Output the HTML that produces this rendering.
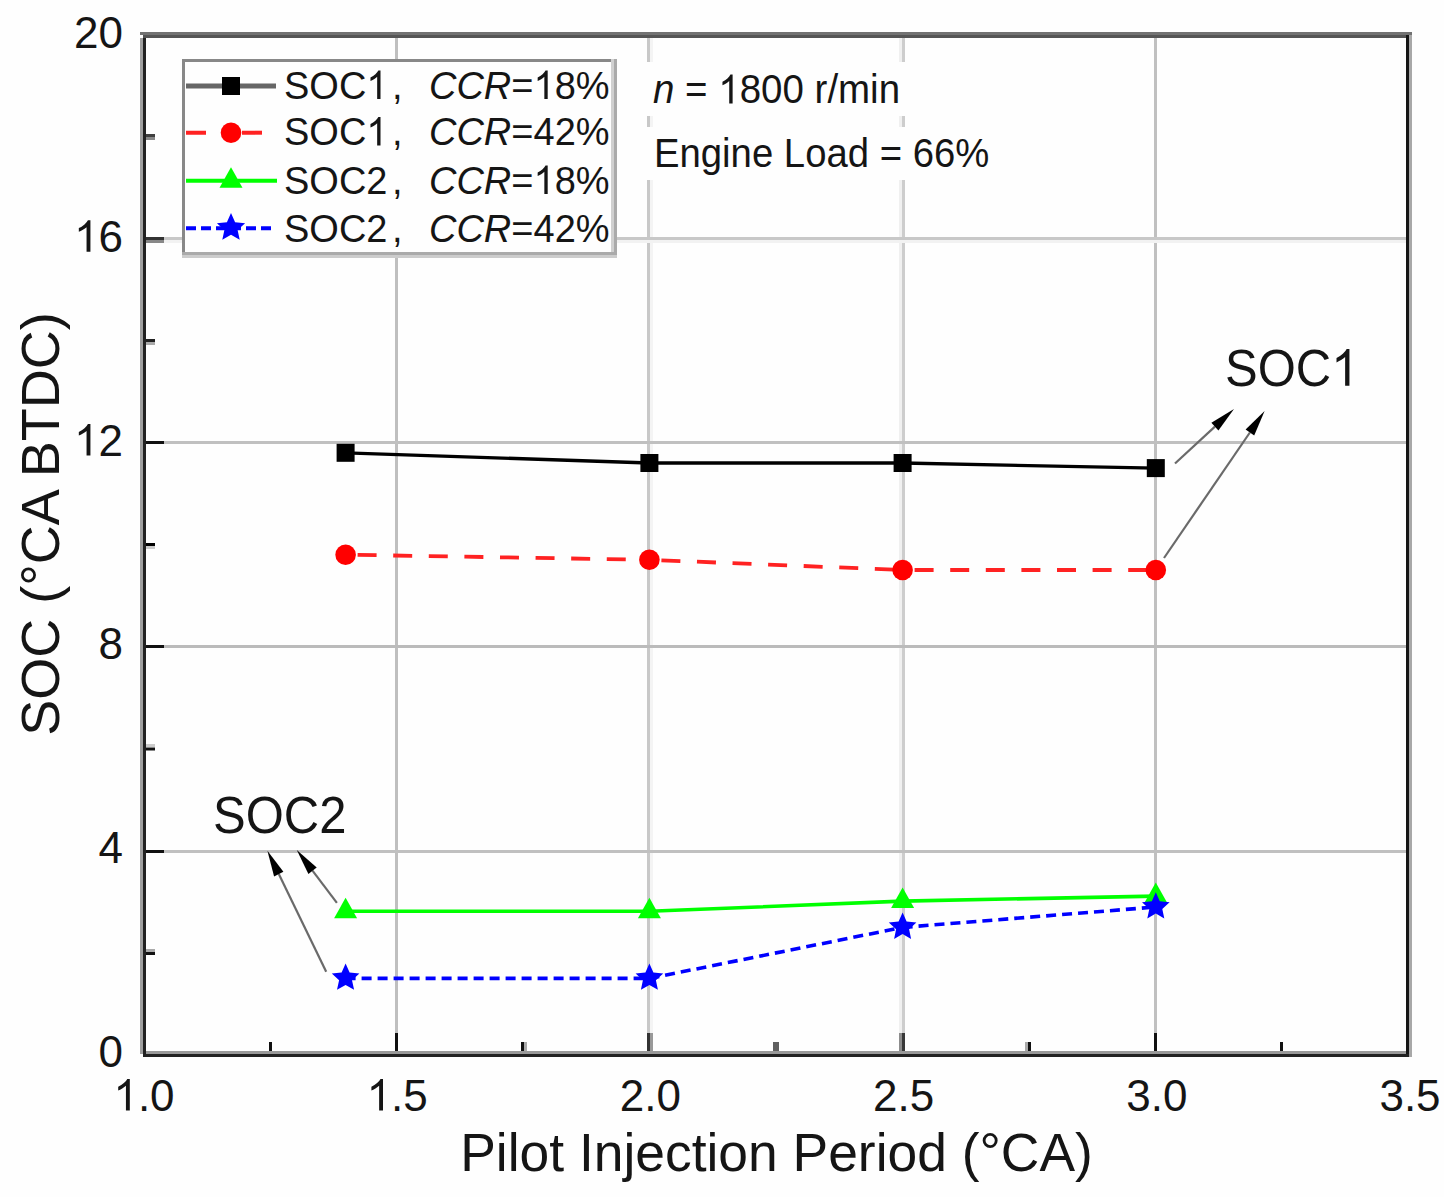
<!DOCTYPE html><html><head><meta charset="utf-8"><style>html,body{margin:0;padding:0;background:#fefefe;overflow:hidden}svg{display:block}text{font-family:"Liberation Sans",sans-serif;fill:#151515;stroke:none}.o{stroke:none}.h{fill-opacity:0;stroke:none}</style></head><body>
<svg width="1444" height="1197" viewBox="0 0 1444 1197">
<rect x="0" y="0" width="1444" height="1197" fill="#fefefe"/>
<g>
<rect x="395" y="38" width="3" height="1013" fill="#bfbfbf"/>
<rect x="647" y="38" width="3" height="1013" fill="#c8c8c8"/>
<rect x="650" y="38" width="3" height="1013" fill="#f4f4f4"/>
<rect x="899" y="38" width="3" height="1013" fill="#f0f0f0"/>
<rect x="902" y="38" width="3" height="1013" fill="#cdcdcd"/>
<rect x="1154" y="38" width="3" height="1013" fill="#c0c0c0"/>
<rect x="146" y="237" width="1260" height="3" fill="#c8c8c8"/>
<rect x="146" y="240" width="1260" height="3" fill="#f2f2f2"/>
<rect x="146" y="441" width="1260" height="3" fill="#c0c0c0"/>
<rect x="146" y="645" width="1260" height="3" fill="#bbbbbb"/>
<rect x="146" y="850" width="1260" height="3" fill="#c0c0c0"/>
<rect x="140" y="38" width="3" height="1016" fill="#a0a0a0"/>
<rect x="143" y="35" width="3" height="1022" fill="#222"/>
<rect x="140" y="32" width="1272" height="3" fill="#727272"/>
<rect x="143" y="35" width="1266" height="3" fill="#555"/>
<rect x="1406" y="35" width="3" height="1022" fill="#151515"/>
<rect x="1409" y="35" width="3" height="1022" fill="#a8a8a8"/>
<rect x="146" y="1051" width="1260" height="3" fill="#999"/>
<rect x="143" y="1054" width="1266" height="3" fill="#222"/>
<rect x="269" y="1042" width="3" height="9" fill="#111"/>
<rect x="395" y="1033" width="3" height="18" fill="#111"/>
<rect x="521" y="1042" width="3" height="9" fill="#111"/>
<rect x="524" y="1042" width="3" height="9" fill="#aaa"/>
<rect x="647" y="1033" width="3" height="18" fill="#333"/>
<rect x="650" y="1033" width="3" height="18" fill="#999"/>
<rect x="773" y="1042" width="6" height="9" fill="#606060"/>
<rect x="899" y="1033" width="3" height="18" fill="#8c8c8c"/>
<rect x="902" y="1033" width="3" height="18" fill="#383838"/>
<rect x="1025" y="1042" width="3" height="9" fill="#aaa"/>
<rect x="1028" y="1042" width="3" height="9" fill="#111"/>
<rect x="1154" y="1033" width="3" height="18" fill="#111"/>
<rect x="1280" y="1042" width="3" height="9" fill="#111"/>
<rect x="146" y="134" width="9" height="3" fill="#404040"/>
<rect x="146" y="137" width="9" height="3" fill="#888"/>
<rect x="146" y="339" width="9" height="3" fill="#222"/>
<rect x="146" y="342" width="9" height="3" fill="#aaa"/>
<rect x="146" y="543" width="9" height="3" fill="#000"/>
<rect x="146" y="546" width="9" height="3" fill="#ccc"/>
<rect x="146" y="744" width="9" height="3" fill="#ccc"/>
<rect x="146" y="747.5" width="9" height="3" fill="#111"/>
<rect x="146" y="949" width="9" height="3" fill="#aaa"/>
<rect x="146" y="952" width="9" height="3" fill="#111"/>
<rect x="146" y="237" width="18" height="3" fill="#333"/>
<rect x="146" y="240" width="18" height="3" fill="#888"/>
<rect x="146" y="441" width="18" height="3" fill="#111"/>
<rect x="146" y="645" width="18" height="3" fill="#111"/>
<rect x="146" y="850" width="18" height="3" fill="#111"/>
<text x="144.0" y="1110.5" font-size="44" text-anchor="middle"><tspan class="h">1</tspan>.0</text>
<text x="397.2" y="1110.5" font-size="44" text-anchor="middle"><tspan class="h">1</tspan>.5</text>
<text x="650.4" y="1110.5" font-size="44" text-anchor="middle">2.0</text>
<text x="903.6" y="1110.5" font-size="44" text-anchor="middle">2.5</text>
<text x="1156.8" y="1110.5" font-size="44" text-anchor="middle">3.0</text>
<text x="1410.0" y="1110.5" font-size="44" text-anchor="middle">3.5</text>
<text x="123" y="1067.0" font-size="44" text-anchor="end">0</text>
<text x="123" y="863.2" font-size="44" text-anchor="end">4</text>
<text x="123" y="659.4" font-size="44" text-anchor="end">8</text>
<text x="123" y="455.6" font-size="44" text-anchor="end"><tspan class="h">1</tspan>2</text>
<text x="123" y="251.8" font-size="44" text-anchor="end"><tspan class="h">1</tspan>6</text>
<text x="123" y="48.0" font-size="44" text-anchor="end">20</text>
<g transform="matrix(1,0,0,1.02,0,-23.420)"><text x="776.5" y="1171" font-size="53.4" text-anchor="middle">Pilot Injection Period (°CA)</text></g>
<text transform="translate(59,524) rotate(-90)" font-size="54" text-anchor="middle">SOC (°CA BTDC)</text>
<rect x="640" y="62" width="272" height="54" fill="#fefefe"/>
<rect x="640" y="127" width="360" height="53" fill="#fefefe"/>
<g transform="matrix(1,0,0,1.045,0,-4.657)"><text x="653" y="103.5" font-size="38.5"><tspan font-style="italic">n</tspan> = <tspan class="h">1</tspan>800 r/min</text></g>
<g transform="matrix(1,0,0,1.045,0,-7.515)"><text x="654" y="167" font-size="38.3">Engine Load = 66%</text></g>
<polyline points="345.6,452.8 649.4,463.0 902.6,463.0 1155.8,468.1" fill="none" stroke="#000" stroke-width="3.3"/>
<line x1="345.6" y1="554.7" x2="649.4" y2="559.8" stroke="#f22" stroke-width="3.8" stroke-dasharray="19 16.6" stroke-dashoffset="23.6"/>
<line x1="649.4" y1="559.8" x2="902.6" y2="570.0" stroke="#f22" stroke-width="3.8" stroke-dasharray="19 16.6" stroke-dashoffset="23.6"/>
<line x1="902.6" y1="570.0" x2="1155.8" y2="570.0" stroke="#f22" stroke-width="3.8" stroke-dasharray="19 16.6" stroke-dashoffset="23.6"/>
<polyline points="345.6,911.3 649.4,911.3 902.6,901.1 1155.8,896.1" fill="none" stroke="#0f0" stroke-width="3.6"/>
<line x1="345.6" y1="978.4" x2="649.4" y2="978.4" stroke="#00f" stroke-width="3.6" stroke-dasharray="10 6"/>
<line x1="649.4" y1="978.4" x2="902.6" y2="927.4" stroke="#00f" stroke-width="3.6" stroke-dasharray="10 6"/>
<line x1="902.6" y1="927.4" x2="1155.8" y2="907.0" stroke="#00f" stroke-width="3.6" stroke-dasharray="10 6"/>
<rect x="336.6" y="443.8" width="18" height="18" fill="#000"/>
<rect x="640.4" y="454.0" width="18" height="18" fill="#000"/>
<rect x="893.6" y="454.0" width="18" height="18" fill="#000"/>
<rect x="1146.8" y="459.1" width="18" height="18" fill="#000"/>
<circle cx="345.6" cy="554.7" r="10.3" fill="#f00"/>
<circle cx="649.4" cy="559.8" r="10.3" fill="#f00"/>
<circle cx="902.6" cy="570.0" r="10.3" fill="#f00"/>
<circle cx="1155.8" cy="570.0" r="10.3" fill="#f00"/>
<polygon points="345.6,897.8 357.1,918.3 334.1,918.3" fill="#0f0"/>
<polygon points="649.4,897.8 660.9,918.3 637.9,918.3" fill="#0f0"/>
<polygon points="902.6,887.6 914.1,908.1 891.1,908.1" fill="#0f0"/>
<polygon points="1155.8,882.6 1167.3,903.1 1144.3,903.1" fill="#0f0"/>
<polygon points="345.6,963.6 349.6,972.6 359.4,973.6 352.0,980.2 354.1,989.8 345.6,984.9 337.0,989.8 339.1,980.2 331.8,973.6 341.6,972.6" fill="#00f"/>
<polygon points="649.4,963.6 653.4,972.6 663.2,973.6 655.9,980.2 657.9,989.8 649.4,984.9 640.9,989.8 642.9,980.2 635.6,973.6 645.4,972.6" fill="#00f"/>
<polygon points="902.6,912.6 906.6,921.6 916.4,922.6 909.1,929.2 911.1,938.9 902.6,933.9 894.1,938.9 896.1,929.2 888.8,922.6 898.6,921.6" fill="#00f"/>
<polygon points="1155.8,892.2 1159.8,901.2 1169.6,902.3 1162.3,908.9 1164.3,918.5 1155.8,913.6 1147.3,918.5 1149.3,908.9 1142.0,902.3 1151.8,901.2" fill="#00f"/>
<line x1="1175.0" y1="463.5" x2="1214.9" y2="426.6" stroke="#6a6a6a" stroke-width="2.2"/><polygon points="1234.0,409.0 1218.4,430.5 1211.4,422.8" fill="#000"/>
<line x1="1164.0" y1="558.0" x2="1249.9" y2="432.5" stroke="#6a6a6a" stroke-width="2.2"/><polygon points="1264.6,411.0 1254.2,435.4 1245.6,429.5" fill="#000"/>
<line x1="326.2" y1="971.7" x2="278.8" y2="874.1" stroke="#6a6a6a" stroke-width="2.2"/><polygon points="267.4,850.7 283.4,871.8 274.1,876.4" fill="#000"/>
<line x1="336.9" y1="902.9" x2="312.5" y2="870.7" stroke="#6a6a6a" stroke-width="2.2"/><polygon points="296.8,850.0 316.7,867.6 308.4,873.9" fill="#000"/>
<g transform="matrix(1,0,0,1.045,0,-17.356)"><text x="1225" y="385.7" font-size="49">SOC<tspan class="h">1</tspan></text></g>
<g transform="matrix(1,0,0,1.045,0,-37.467)"><text x="213" y="832.6" font-size="49">SOC2</text></g>
<rect x="183.5" y="60.5" width="430" height="194" fill="#fefefe" stroke="#888" stroke-width="3"/>
<rect x="611" y="59" width="3" height="198" fill="#d0d0d0"/><rect x="614" y="59" width="3" height="198" fill="#aaa"/>
<rect x="182" y="252" width="435" height="3" fill="#aaa"/><rect x="182" y="255" width="435" height="3" fill="#ccc"/>
<line x1="186" y1="86" x2="276" y2="86" stroke="#666" stroke-width="5"/>
<rect x="222.0" y="77.0" width="18" height="18" fill="#000"/>
<line x1="186" y1="132.7" x2="264" y2="132.7" stroke="#f22" stroke-width="4" stroke-dasharray="20 36"/>
<circle cx="231.0" cy="132.7" r="10.3" fill="#f00"/>
<line x1="186" y1="180.7" x2="277" y2="180.7" stroke="#0f0" stroke-width="4"/>
<polygon points="231.0,167.2 242.5,187.7 219.5,187.7" fill="#0f0"/>
<line x1="186" y1="228.3" x2="272" y2="228.3" stroke="#00f" stroke-width="4" stroke-dasharray="10 5"/>
<polygon points="231.0,213.0 235.1,222.2 245.1,223.2 237.6,229.9 239.7,239.8 231.0,234.8 222.3,239.8 224.4,229.9 216.9,223.2 226.9,222.2" fill="#00f"/>
<g transform="matrix(1,0,0,1.045,0,-4.455)"><text x="284" y="99" font-size="38">SOC<tspan class="h">1</tspan></text></g>
<g transform="matrix(1,0,0,1.045,0,-4.455)"><text x="392" y="99" font-size="38">,</text></g>
<g transform="matrix(1,0,0,1.045,0,-4.455)"><text x="429" y="99" font-size="38"><tspan font-style="italic">CCR</tspan>=<tspan class="h">1</tspan>8%</text></g>
<g transform="matrix(1,0,0,1.045,0,-6.547)"><text x="284" y="145.5" font-size="38">SOC<tspan class="h">1</tspan></text></g>
<g transform="matrix(1,0,0,1.045,0,-6.547)"><text x="392" y="145.5" font-size="38">,</text></g>
<g transform="matrix(1,0,0,1.045,0,-6.547)"><text x="429" y="145.5" font-size="38"><tspan font-style="italic">CCR</tspan>=42%</text></g>
<g transform="matrix(1,0,0,1.045,0,-8.730)"><text x="284" y="194" font-size="38">SOC2</text></g>
<g transform="matrix(1,0,0,1.045,0,-8.730)"><text x="392" y="194" font-size="38">,</text></g>
<g transform="matrix(1,0,0,1.045,0,-8.730)"><text x="429" y="194" font-size="38"><tspan font-style="italic">CCR</tspan>=<tspan class="h">1</tspan>8%</text></g>
<g transform="matrix(1,0,0,1.045,0,-10.890)"><text x="284" y="242" font-size="38">SOC2</text></g>
<g transform="matrix(1,0,0,1.045,0,-10.890)"><text x="392" y="242" font-size="38">,</text></g>
<g transform="matrix(1,0,0,1.045,0,-10.890)"><text x="429" y="242" font-size="38"><tspan font-style="italic">CCR</tspan>=42%</text></g>
<defs><path id="one" d="M763,0L583,0L583,1147Q518,1085 412,1023Q307,961 223,930L223,1104Q374,1175 487,1276Q600,1377 647,1472L763,1472Z" vector-effect="non-scaling-stroke"/></defs>
<use href="#one" class="o" fill="#151515" transform="translate(113.41,1110.50) scale(0.021484,-0.021484)"/>
<use href="#one" class="o" fill="#151515" transform="translate(366.61,1110.50) scale(0.021484,-0.021484)"/>
<use href="#one" class="o" fill="#151515" transform="translate(74.03,455.60) scale(0.021484,-0.021484)"/>
<use href="#one" class="o" fill="#151515" transform="translate(74.03,251.80) scale(0.021484,-0.021484)"/>
<use href="#one" class="o" fill="#151515" transform="translate(718.27,103.50) scale(0.018799,-0.019645)"/>
<use href="#one" class="o" fill="#151515" transform="translate(1331.18,385.70) scale(0.023926,-0.025002)"/>
<use href="#one" class="o" fill="#151515" transform="translate(366.35,99.00) scale(0.018555,-0.019390)"/>
<use href="#one" class="o" fill="#151515" transform="translate(533.53,99.00) scale(0.018555,-0.019390)"/>
<use href="#one" class="o" fill="#151515" transform="translate(366.35,145.50) scale(0.018555,-0.019390)"/>
<use href="#one" class="o" fill="#151515" transform="translate(533.53,194.00) scale(0.018555,-0.019390)"/>
</g></svg></body></html>
